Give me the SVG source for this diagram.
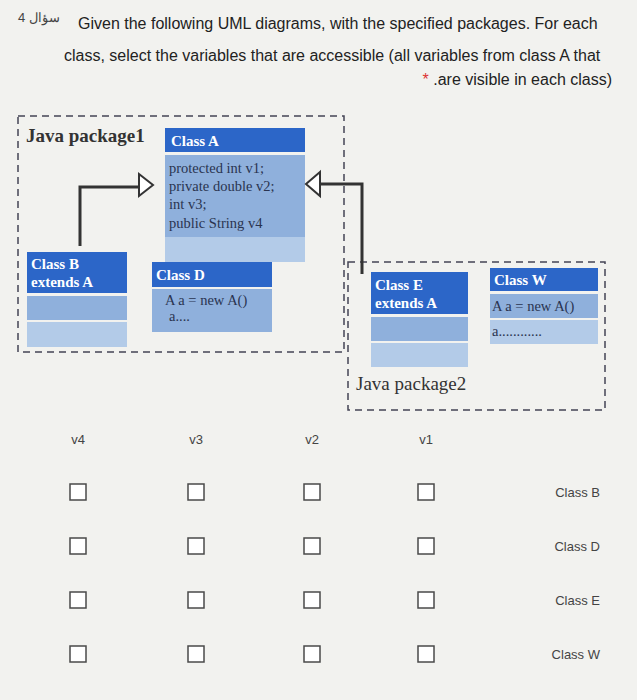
<svg xmlns="http://www.w3.org/2000/svg" width="637" height="700" viewBox="0 0 637 700">
<style>
.q{font-family:"Liberation Sans",Arial,sans-serif;font-size:16px;fill:#222}
.s{font-family:"Liberation Sans",Arial,sans-serif;font-size:13px;fill:#444}
.h{font-family:"Liberation Serif","Times New Roman",serif;font-size:15px;fill:#fff;font-weight:bold}
.b{font-family:"Liberation Serif","Times New Roman",serif;font-size:14.5px;fill:#2a3450}
.pk{font-family:"Liberation Serif","Times New Roman",serif;font-size:19px;fill:#333}
.hd{fill:#2c66c8}.r1{fill:#8fb0dc}.r2{fill:#b3cbe8}
.dash{fill:none;stroke:#445;stroke-width:1.5;stroke-dasharray:7,5}
.cb{fill:#fff;stroke:#4a4a4a;stroke-width:1.5}
.ln{fill:none;stroke:#333;stroke-width:3}
.tri{fill:#fff;stroke:#333;stroke-width:2}
</style>
<rect width="637" height="700" fill="#f2f2ef"/>
<text x="18" y="22" class="s" font-size="10">سؤال 4</text>
<text x="78" y="29" class="q">Given the following UML diagrams, with the specified packages. For each</text>
<text x="64" y="61" class="q">class, select the variables that are accessible (all variables from class A that</text>
<text x="612" y="85" class="q" text-anchor="end"><tspan fill="#d33">*</tspan> .are visible in each class)</text>
<rect x="18" y="116" width="326" height="236" class="dash"/>
<rect x="348" y="262" width="257" height="148" class="dash"/>
<text x="26" y="142" class="pk" font-weight="bold">Java package1</text>
<text x="356" y="390" class="pk">Java package2</text>
<g id="classA"><rect x="165" y="128" width="140" height="24" class="hd"/><rect x="165" y="155" width="140" height="82" class="r1"/><rect x="165" y="237" width="140" height="25" class="r2"/>
<text x="171" y="146" class="h">Class A</text>
<text x="169" y="173" class="b">protected int v1;</text><text x="169" y="191" class="b">private double v2;</text><text x="169" y="209" class="b">int v3;</text><text x="169" y="228" class="b">public String v4</text></g>
<g id="classB"><rect x="27" y="252" width="100" height="41" class="hd"/><rect x="27" y="296" width="100" height="24" class="r1"/><rect x="27" y="322" width="100" height="25" class="r2"/>
<text x="31" y="269" class="h">Class B</text><text x="31" y="287" class="h">extends A</text></g>
<g id="classD"><rect x="152" y="262" width="120" height="25" class="hd"/><rect x="152" y="289" width="120" height="43" class="r1"/>
<text x="156" y="280" class="h">Class D</text><text x="165" y="305" class="b">A a = new A()</text><text x="169" y="321" class="b" font-size="11">a....</text></g>
<g id="classE"><rect x="371" y="272" width="97" height="42" class="hd"/><rect x="371" y="317" width="97" height="24" class="r1"/><rect x="371" y="343" width="97" height="24" class="r2"/>
<text x="375" y="290" class="h">Class E</text><text x="375" y="308" class="h">extends A</text></g>
<g id="classW"><rect x="490" y="268" width="108" height="23" class="hd"/><rect x="490" y="294" width="108" height="24" class="r1"/><rect x="490" y="320" width="108" height="24" class="r2"/>
<text x="494" y="285" class="h">Class W</text><text x="492" y="311" class="b">A a = new A()</text><text x="492" y="336" class="b" font-size="10">a............</text></g>
<g id="connectors">
<polyline points="80,246 80,187 140,187" class="ln"/><polygon points="139,174 153,185 139,196" class="tri"/>
<polyline points="362,274 362,184 320,184" class="ln"/><polygon points="320,172 306,184 320,196" class="tri"/>
</g>
<g id="grid">
<text x="78" y="444" class="s" text-anchor="middle">v4</text><text x="196" y="444" class="s" text-anchor="middle">v3</text><text x="312" y="444" class="s" text-anchor="middle">v2</text><text x="426" y="444" class="s" text-anchor="middle">v1</text>
<g class="cb">
<rect x="70" y="484" width="16" height="16"/><rect x="188" y="484" width="16" height="16"/><rect x="304" y="484" width="16" height="16"/><rect x="418" y="484" width="16" height="16"/>
<rect x="70" y="538" width="16" height="16"/><rect x="188" y="538" width="16" height="16"/><rect x="304" y="538" width="16" height="16"/><rect x="418" y="538" width="16" height="16"/>
<rect x="70" y="592" width="16" height="16"/><rect x="188" y="592" width="16" height="16"/><rect x="304" y="592" width="16" height="16"/><rect x="418" y="592" width="16" height="16"/>
<rect x="70" y="646" width="16" height="16"/><rect x="188" y="646" width="16" height="16"/><rect x="304" y="646" width="16" height="16"/><rect x="418" y="646" width="16" height="16"/>
</g>
<text x="600" y="497" class="s" text-anchor="end">Class B</text><text x="600" y="551" class="s" text-anchor="end">Class D</text><text x="600" y="605" class="s" text-anchor="end">Class E</text><text x="600" y="659" class="s" text-anchor="end">Class W</text>
</g>
</svg>
